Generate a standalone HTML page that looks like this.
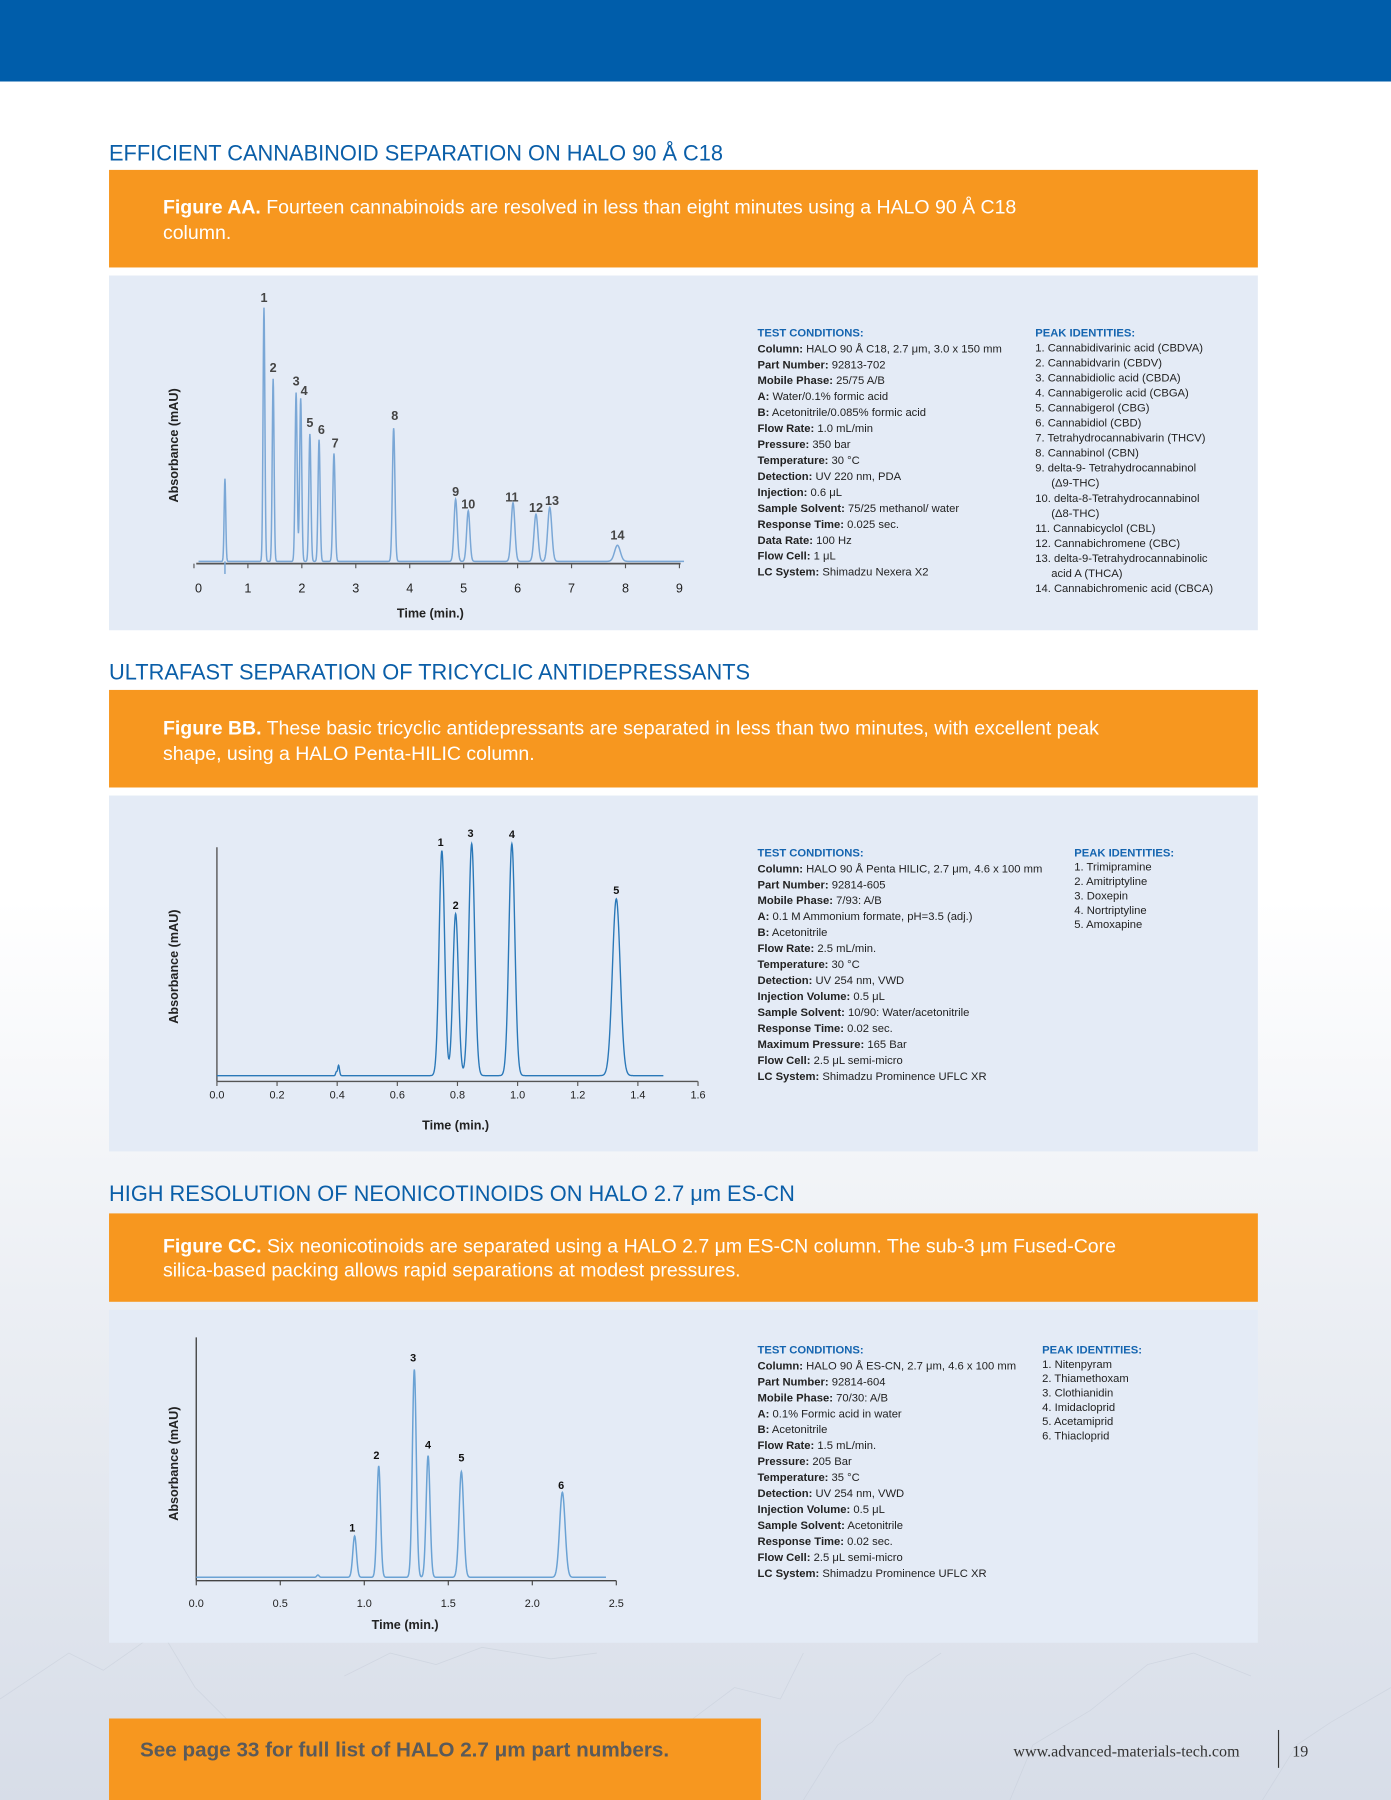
<!DOCTYPE html>
<html><head><meta charset="utf-8">
<style>
html,body{margin:0;padding:0;width:1391px;height:1800px;overflow:hidden;background:#fff}
svg{display:block}
text{font-family:"Liberation Sans",sans-serif}
</style></head>
<body>
<svg id="s" width="1391" height="1800" viewBox="0 0 1212 1568" preserveAspectRatio="none" xmlns="http://www.w3.org/2000/svg">
<defs>
<linearGradient id="bg" x1="0" y1="0" x2="0" y2="1">
<stop offset="0" stop-color="#ffffff"/>
<stop offset="0.5" stop-color="#ffffff"/>
<stop offset="0.72" stop-color="#eceff4"/>
<stop offset="1" stop-color="#d7dde8"/>
</linearGradient>
</defs>
<rect x="0" y="0" width="1212" height="1568" fill="url(#bg)"/>
<g stroke="#c8cfdb" stroke-width="0.7" fill="none" opacity="0.6">
<path d="M0 1480 L60 1440 L90 1455 L140 1420 L170 1470 L200 1500"/>
<path d="M700 1568 L730 1520 L760 1500 L790 1460 L820 1440"/>
<path d="M880 1568 L900 1520 L950 1490 L1000 1450 L1040 1440 L1090 1460"/>
<path d="M1100 1568 L1130 1520 L1160 1500 L1212 1470"/>
<path d="M300 1460 L340 1440 L380 1450 L420 1435 L480 1445 L520 1440"/>
<path d="M600 1500 L640 1470 L680 1480 L700 1440"/>
</g>
<rect x="0" y="0" width="1212" height="71" fill="#005DAA"/>

<text x="95" y="140" font-size="19" fill="#0a5ea8">EFFICIENT CANNABINOID SEPARATION ON HALO 90 Å C18</text>
<rect x="95" y="148" width="1001" height="85" fill="#F7971F"/>
<text x="142" y="186" font-size="17" fill="#fff"><tspan font-weight="bold">Figure AA.</tspan> Fourteen cannabinoids are resolved in less than eight minutes using a HALO 90 Å C18</text>
<text x="142" y="208" font-size="17" fill="#fff">column.</text>
<rect x="95" y="240" width="1001" height="309" fill="#E4EBF6"/>

<text x="95" y="592" font-size="19" fill="#0a5ea8">ULTRAFAST SEPARATION OF TRICYCLIC ANTIDEPRESSANTS</text>
<rect x="95" y="601" width="1001" height="85" fill="#F7971F"/>
<text x="142" y="640" font-size="17" fill="#fff"><tspan font-weight="bold">Figure BB.</tspan> These basic tricyclic antidepressants are separated in less than two minutes, with excellent peak</text>
<text x="142" y="662" font-size="17" fill="#fff">shape, using a HALO Penta-HILIC column.</text>
<rect x="95" y="693" width="1001" height="310" fill="#E4EBF6"/>

<text x="95" y="1046" font-size="19" fill="#0a5ea8">HIGH RESOLUTION OF NEONICOTINOIDS ON HALO 2.7 μm ES-CN</text>
<rect x="95" y="1057" width="1001" height="77" fill="#F7971F"/>
<text x="142" y="1091" font-size="17" fill="#fff"><tspan font-weight="bold">Figure CC.</tspan> Six neonicotinoids are separated using a HALO 2.7 μm ES-CN column. The sub-3 μm Fused-Core</text>
<text x="142" y="1112" font-size="17" fill="#fff">silica-based packing allows rapid separations at modest pressures.</text>
<rect x="95" y="1141" width="1001" height="290" fill="#E4EBF6"/>

<rect x="95" y="1497" width="568" height="71" fill="#F7971F"/>
<text x="122" y="1530" font-size="18" font-weight="bold" fill="#5a5a5a">See page 33 for full list of HALO 2.7 μm part numbers.</text>
<text x="883" y="1530" font-size="14" fill="#333" style="font-family:'Liberation Serif',serif">www.advanced-materials-tech.com</text>
<line x1="1114" y1="1507" x2="1114" y2="1540" stroke="#333" stroke-width="1"/>
<text x="1126" y="1530" font-size="14" fill="#333" style="font-family:'Liberation Serif',serif">19</text>

<g id="g"></g>
</svg>
<script>
var g=document.getElementById('g'),NS='http://www.w3.org/2000/svg';
function el(t,a,txt){var e=document.createElementNS(NS,t);for(var k in a)e.setAttribute(k,a[k]);if(txt!=null)e.textContent=txt;g.appendChild(e);return e;}
function trace(x0,x1,base,peaks,col,w){var d='';for(var x=x0;x<=x1;x+=0.25){var y=base;for(var i=0;i<peaks.length;i++){var p=peaks[i];var dx=x-p[0];y-=p[1]*Math.exp(-dx*dx/(2*p[2]*p[2]));}d+=(d?'L':'M')+x.toFixed(2)+' '+y.toFixed(2);}el('path',{d:d,fill:'none',stroke:col,'stroke-width':w});}
function ytitle(x,y){el('text',{x:x,y:y,'font-size':11,'font-weight':'bold',fill:'#222','text-anchor':'middle',transform:'rotate(-90 '+x+' '+y+')'},'Absorbance (mAU)');}
function cond(x,y,lines,title,dy){el('text',{x:x,y:y,'font-size':9.8,'font-weight':'bold',fill:'#1565b0'},title);for(var i=0;i<lines.length;i++){var t=el('text',{x:x,y:y+dy*(i+1),'font-size':9.8,fill:'#222'});var l=lines[i];if(l[0]){var b=document.createElementNS(NS,'tspan');b.setAttribute('font-weight','bold');b.textContent=l[0];t.appendChild(b);}var n=document.createElementNS(NS,'tspan');n.textContent=l[1];t.appendChild(n);}}
function ids(x,y,lines,title,dy,ind){el('text',{x:x,y:y,'font-size':9.8,'font-weight':'bold',fill:'#1565b0'},title);for(var i=0;i<lines.length;i++){var l=lines[i];el('text',{x:x+(l[0]?ind:0),y:y+dy*(i+1),'font-size':9.8,fill:'#222'},l[1]);}}

/* Chart 1 */
var c1='#7aa7d6';
el('line',{x1:171,y1:491,x2:593,y2:491,stroke:'#555','stroke-width':1.5});
for(var i=0;i<=9;i++){var x=169+47*i;el('line',{x1:x,y1:491,x2:x,y2:495,stroke:'#555','stroke-width':1});el('text',{x:x+(i==0?4:0),y:516,'font-size':11,'text-anchor':'middle',fill:'#222'},String(i));}
trace(173,596,489,[[196,72,0.7],[230,221,0.8],[238,159,0.8],[258,147,0.9],[262,142,0.9],[270,111,0.9],[278,106,0.9],[291,94,1.0],[343,116,1.1],[397,54,1.4],[408,44,1.4],[447,51,1.6],[467,41,1.7],[479,47,1.8],[538,14,2.5]],c1,1.3);
el('line',{x1:196,y1:489,x2:196,y2:500,stroke:c1,'stroke-width':1.3});
var L1=[['1',230,263],['2',238,324],['3',258,336],['4',265,344],['5',270,372],['6',280,378],['7',292,390],['8',344,366],['9',397,432],['10',408,443],['11',446,437],['12',467,446],['13',481,440],['14',538,470]];
L1.forEach(function(a){el('text',{x:a[1],y:a[2],'font-size':11,'font-weight':'bold','text-anchor':'middle',fill:'#444'},a[0]);});
ytitle(155,388);
el('text',{x:375,y:538,'font-size':11,'font-weight':'bold','text-anchor':'middle',fill:'#222'},'Time (min.)');
cond(660,293,[['Column:',' HALO 90 Å C18, 2.7 μm, 3.0 x 150 mm'],['Part Number:',' 92813-702'],['Mobile Phase:',' 25/75 A/B'],['A:',' Water/0.1% formic acid'],['B:',' Acetonitrile/0.085% formic acid'],['Flow Rate:',' 1.0 mL/min'],['Pressure:',' 350 bar'],['Temperature:',' 30 °C'],['Detection:',' UV 220 nm, PDA'],['Injection:',' 0.6 μL'],['Sample Solvent:',' 75/25 methanol/ water'],['Response Time:',' 0.025 sec.'],['Data Rate:',' 100 Hz'],['Flow Cell:',' 1 μL'],['LC System:',' Shimadzu Nexera X2']],'TEST CONDITIONS:',13.9);
ids(902,293,[[0,'1.  Cannabidivarinic acid (CBDVA)'],[0,'2.  Cannabidvarin (CBDV)'],[0,'3.  Cannabidiolic acid (CBDA)'],[0,'4.  Cannabigerolic acid (CBGA)'],[0,'5.  Cannabigerol (CBG)'],[0,'6.  Cannabidiol (CBD)'],[0,'7.  Tetrahydrocannabivarin (THCV)'],[0,'8.  Cannabinol (CBN)'],[0,'9.  delta-9- Tetrahydrocannabinol'],[1,'(Δ9-THC)'],[0,'10. delta-8-Tetrahydrocannabinol'],[1,'(Δ8-THC)'],[0,'11. Cannabicyclol (CBL)'],[0,'12. Cannabichromene (CBC)'],[0,'13. delta-9-Tetrahydrocannabinolic'],[1,'acid A (THCA)'],[0,'14. Cannabichromenic acid (CBCA)']],'PEAK IDENTITIES:',13.1,14);

/* Chart 2 */
var c2='#2a78b8';
el('line',{x1:189,y1:738,x2:189,y2:942,stroke:'#555','stroke-width':1.2});
el('line',{x1:189,y1:942,x2:608,y2:942,stroke:'#555','stroke-width':1.2});
['0.0','0.2','0.4','0.6','0.8','1.0','1.2','1.4','1.6'].forEach(function(s,i){var x=189+52.4*i;el('line',{x1:x,y1:942,x2:x,y2:946,stroke:'#555','stroke-width':1});el('text',{x:x,y:957,'font-size':9.5,'text-anchor':'middle',fill:'#222'},s);});
trace(189,578,937,[[293,3,0.6],[295,9,0.8],[385,196,2.4],[397,141,2.4],[411,202,2.6],[446,202,2.6],[537,154,3.4]],c2,1.2);
[['1',384,737],['2',397,792],['3',410,729],['4',446,730],['5',537,779]].forEach(function(a){el('text',{x:a[1],y:a[2],'font-size':9.5,'font-weight':'bold','text-anchor':'middle',fill:'#111'},a[0]);});
ytitle(155,842);
el('text',{x:397,y:984,'font-size':11,'font-weight':'bold','text-anchor':'middle',fill:'#222'},'Time (min.)');
cond(660,746,[['Column:',' HALO 90 Å Penta HILIC, 2.7 μm, 4.6 x 100 mm'],['Part Number:',' 92814-605'],['Mobile Phase:',' 7/93: A/B'],['A:',' 0.1 M Ammonium formate, pH=3.5 (adj.)'],['B:',' Acetonitrile'],['Flow Rate:',' 2.5 mL/min.'],['Temperature:',' 30 °C'],['Detection:',' UV 254 nm, VWD'],['Injection Volume:',' 0.5 μL'],['Sample Solvent:',' 10/90: Water/acetonitrile'],['Response Time:',' 0.02 sec.'],['Maximum Pressure:',' 165 Bar'],['Flow Cell:',' 2.5 μL semi-micro'],['LC System:',' Shimadzu Prominence UFLC XR']],'TEST CONDITIONS:',13.9);
ids(936,746,[[0,'1. Trimipramine'],[0,'2. Amitriptyline'],[0,'3. Doxepin'],[0,'4. Nortriptyline'],[0,'5. Amoxapine']],'PEAK IDENTITIES:',12.5,0);

/* Chart 3 */
var c3='#6aa2d4';
el('line',{x1:171,y1:1165,x2:171,y2:1377,stroke:'#444','stroke-width':1.2});
el('line',{x1:171,y1:1377,x2:537,y2:1377,stroke:'#444','stroke-width':1.2});
['0.0','0.5','1.0','1.5','2.0','2.5'].forEach(function(s,i){var x=171+73.2*i;el('line',{x1:x,y1:1377,x2:x,y2:1381,stroke:'#444','stroke-width':1});el('text',{x:x,y:1400,'font-size':9.5,'text-anchor':'middle',fill:'#222'},s);});
trace(171,528,1374,[[277,2,1],[309,36,1.6],[330,97,1.6],[361,181,1.7],[373,106,1.7],[402,92,2.0],[490,74,2.4]],c3,1.3);
[['1',307,1334],['2',328,1271],['3',360,1186],['4',373,1262],['5',402,1273],['6',489,1297]].forEach(function(a){el('text',{x:a[1],y:a[2],'font-size':9.5,'font-weight':'bold','text-anchor':'middle',fill:'#111'},a[0]);});
ytitle(155,1275);
el('text',{x:353,y:1419,'font-size':11,'font-weight':'bold','text-anchor':'middle',fill:'#222'},'Time (min.)');
cond(660,1179,[['Column:',' HALO 90 Å ES-CN, 2.7 μm, 4.6 x 100 mm'],['Part Number:',' 92814-604'],['Mobile Phase:',' 70/30: A/B'],['A:',' 0.1% Formic acid in water'],['B:',' Acetonitrile'],['Flow Rate:',' 1.5 mL/min.'],['Pressure:',' 205 Bar'],['Temperature:',' 35 °C'],['Detection:',' UV 254 nm, VWD'],['Injection Volume:',' 0.5 μL'],['Sample Solvent:',' Acetonitrile'],['Response Time:',' 0.02 sec.'],['Flow Cell:',' 2.5 μL semi-micro'],['LC System:',' Shimadzu Prominence UFLC XR']],'TEST CONDITIONS:',13.9);
ids(908,1179,[[0,'1. Nitenpyram'],[0,'2. Thiamethoxam'],[0,'3. Clothianidin'],[0,'4. Imidacloprid'],[0,'5. Acetamiprid'],[0,'6. Thiacloprid']],'PEAK IDENTITIES:',12.5,0);
</script>
</body></html>
